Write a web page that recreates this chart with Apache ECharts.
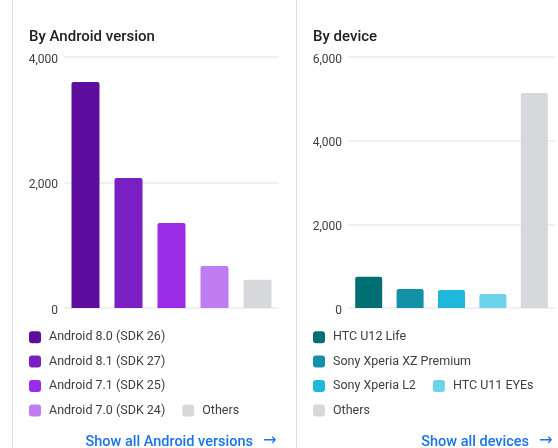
<!DOCTYPE html>
<html>
<head>
<meta charset="utf-8">
<script src="https://cdn.jsdelivr.net/npm/echarts@6/dist/echarts.min.js"></script>
<style>
html,body{margin:0;padding:0;background:#fff;}
#chart{width:558px;height:448px;}
</style>
</head>
<body>
<div id="chart"></div>
<script>
// ---- data ----
const androidVersions = ['Android 8.0 (SDK 26)', 'Android 8.1 (SDK 27)', 'Android 7.1 (SDK 25)', 'Android 7.0 (SDK 24)', 'Others'];
const androidCounts = [3600, 2070, 1355, 670, 450];
const androidColors = ['#5d0e9f', '#7a1fc3', '#9a2ce8', '#c07cf2', '#d7d8dc'];

const devices = ['HTC U12 Life', 'Sony Xperia XZ Premium', 'Sony Xperia L2', 'HTC U11 EYEs', 'Others'];
const deviceCounts = [750, 455, 430, 335, 5140];
const deviceColors = ['#006f73', '#1291a7', '#20b8da', '#6dd3ea', '#d7d8dc'];

const androidAxisMax = 4000;
const deviceAxisMax = 6000;
const tickStep = 2000;

const titles = ['By Android version', 'By device'];
const linkTexts = ['Show all Android versions', 'Show all devices'];

// ---- chart ----
const FONT = 'Roboto, "Noto Sans", sans-serif';
const chart = echarts.init(document.getElementById('chart'), null, {renderer: 'canvas'});

function makeSeries(cats, vals, colors, axisIdx, barW) {
  return cats.map((name, i) => ({
    type: 'bar',
    name: name,
    xAxisIndex: axisIdx,
    yAxisIndex: axisIdx,
    barWidth: barW,
    barGap: '-100%',
    itemStyle: {color: colors[i], borderRadius: [2, 2, 0, 0]},
    emphasis: {disabled: true},
    data: cats.map((c, j) => (j === i ? vals[i] : null))
  }));
}

function yAxis(idx, max) {
  return {
    type: 'value', gridIndex: idx, min: 0, max: max, interval: tickStep,
    axisLine: {show: false}, axisTick: {show: false},
    axisLabel: {
      margin: 6, color: '#3c4043', fontSize: 12, fontFamily: FONT,
      verticalAlign: 'top', lineHeight: 5,
      formatter: v => v.toLocaleString('en-US')
    },
    splitLine: {lineStyle: {color: '#eff0f1', width: 2}}
  };
}

function xAxis(idx, cats) {
  return {
    type: 'category', gridIndex: idx, data: cats,
    axisLine: {show: false}, axisTick: {show: false}, axisLabel: {show: false}
  };
}

const legendText = {
  fontSize: 12.5, color: '#3c4043', fontFamily: FONT,
  lineHeight: 24.4, padding: [0, 17, 0, 3]
};

const titleStyle = {fontSize: 15, fontWeight: 500, color: '#202124', fontFamily: FONT, lineHeight: 17};

const option = {
  animation: false,
  backgroundColor: '#ffffff',
  title: [
    {text: titles[0], left: 29, top: 29, padding: 0, textStyle: titleStyle},
    {text: titles[1], left: 313, top: 29, padding: 0, textStyle: titleStyle}
  ],
  grid: [
    {left: 64, right: 279, top: 57, bottom: 140},
    {left: 348, right: 3, top: 57, bottom: 140}
  ],
  xAxis: [xAxis(0, androidVersions), xAxis(1, devices)],
  yAxis: [yAxis(0, androidAxisMax), yAxis(1, deviceAxisMax)],
  legend: [
    {data: androidVersions, left: 29, top: 325, width: 250, orient: 'horizontal',
     itemWidth: 12, itemHeight: 12, itemGap: 0, icon: 'roundRect', padding: 0,
     selectedMode: false, textStyle: legendText},
    {data: devices, left: 313, top: 325, width: 240, orient: 'horizontal',
     itemWidth: 12, itemHeight: 12, itemGap: 0, icon: 'roundRect', padding: 0,
     selectedMode: false, textStyle: legendText}
  ],
  series: [].concat(
    makeSeries(androidVersions, androidCounts, androidColors, 0, 28),
    makeSeries(devices, deviceCounts, deviceColors, 1, 27)
  ),
  graphic: [
    {type: 'line', shape: {x1: 12.5, y1: 0, x2: 12.5, y2: 448}, style: {stroke: '#dadce0', lineWidth: 1}, silent: true},
    {type: 'line', shape: {x1: 296.5, y1: 0, x2: 296.5, y2: 448}, style: {stroke: '#dadce0', lineWidth: 1}, silent: true},
    {type: 'text', x: 253, y: 442, silent: true,
     style: {text: linkTexts[0], fill: '#1a73e8', font: '500 14.5px ' + FONT, textAlign: 'right', textVerticalAlign: 'middle', align: 'right', verticalAlign: 'middle'}},
    {type: 'text', x: 270, y: 441, silent: true,
     style: {text: '→', fill: '#1a73e8', font: '16px "DejaVu Sans", sans-serif', textAlign: 'center', textVerticalAlign: 'middle', align: 'center', verticalAlign: 'middle'}},
    {type: 'text', x: 529, y: 442, silent: true,
     style: {text: linkTexts[1], fill: '#1a73e8', font: '500 14.5px ' + FONT, textAlign: 'right', textVerticalAlign: 'middle', align: 'right', verticalAlign: 'middle'}},
    {type: 'text', x: 546, y: 441, silent: true,
     style: {text: '→', fill: '#1a73e8', font: '16px "DejaVu Sans", sans-serif', textAlign: 'center', textVerticalAlign: 'middle', align: 'center', verticalAlign: 'middle'}}
  ]
};
chart.setOption(option);
</script>
</body>
</html>
